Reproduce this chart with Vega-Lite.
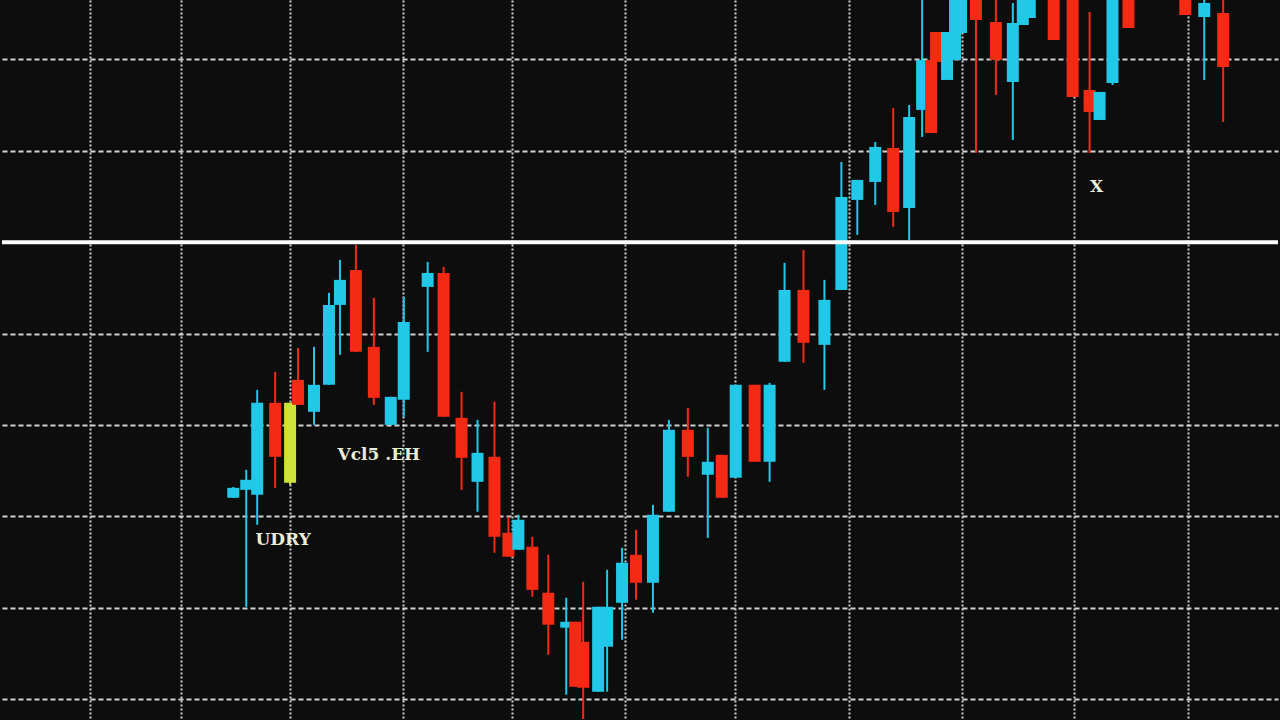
{
  "$schema": "https://vega.github.io/schema/vega-lite/v6.json",
  "width": 1280,
  "height": 720,
  "autosize": {"type": "fit", "contains": "padding"},
  "padding": 0,
  "background": "#0d0d0d",
  "config": {"view": {"stroke": null}},
  "datasets": {
    "candles": [
      {"t": 23.2, "dir": "up", "open": 122.02, "high": 123.2, "low": 122.0, "close": 123.11},
      {"t": 24.5, "dir": "up", "open": 122.89, "high": 125.08, "low": 110.09, "close": 123.99},
      {"t": 25.6, "dir": "up", "open": 122.35, "high": 133.83, "low": 119.07, "close": 132.41},
      {"t": 27.4, "dir": "down", "open": 132.41, "high": 135.8, "low": 123.11, "close": 126.5},
      {"t": 28.9, "dir": "alt", "open": 123.66, "high": 132.41, "low": 123.44, "close": 132.41},
      {"t": 29.7, "dir": "down", "open": 134.93, "high": 138.43, "low": 132.19, "close": 132.19},
      {"t": 31.3, "dir": "up", "open": 131.43, "high": 138.54, "low": 130.0, "close": 134.38},
      {"t": 32.8, "dir": "up", "open": 134.38, "high": 144.45, "low": 134.38, "close": 143.13},
      {"t": 33.9, "dir": "up", "open": 143.13, "high": 148.06, "low": 137.66, "close": 145.87},
      {"t": 35.5, "dir": "down", "open": 146.96, "high": 149.7, "low": 137.99, "close": 137.99},
      {"t": 37.3, "dir": "down", "open": 138.54, "high": 143.9, "low": 132.19, "close": 132.96},
      {"t": 39.0, "dir": "up", "open": 130.0, "high": 133.07, "low": 130.0, "close": 133.07},
      {"t": 40.3, "dir": "up", "open": 132.74, "high": 144.01, "low": 130.88, "close": 141.27},
      {"t": 42.7, "dir": "up", "open": 145.1, "high": 147.84, "low": 137.99, "close": 146.63},
      {"t": 44.3, "dir": "down", "open": 146.63, "high": 147.29, "low": 130.88, "close": 130.88},
      {"t": 46.1, "dir": "down", "open": 130.77, "high": 133.62, "low": 122.89, "close": 126.39},
      {"t": 47.7, "dir": "up", "open": 123.77, "high": 130.55, "low": 120.49, "close": 126.94},
      {"t": 49.4, "dir": "down", "open": 126.5, "high": 132.52, "low": 116.0, "close": 117.75},
      {"t": 50.8, "dir": "down", "open": 118.19, "high": 119.94, "low": 115.56, "close": 115.56},
      {"t": 51.8, "dir": "up", "open": 116.33, "high": 120.16, "low": 116.33, "close": 119.61},
      {"t": 53.2, "dir": "down", "open": 116.66, "high": 117.75, "low": 111.19, "close": 111.95},
      {"t": 54.8, "dir": "down", "open": 111.63, "high": 115.78, "low": 104.84, "close": 108.13},
      {"t": 56.6, "dir": "up", "open": 107.8, "high": 111.08, "low": 100.47, "close": 108.45},
      {"t": 57.5, "dir": "down", "open": 108.45, "high": 108.45, "low": 101.34, "close": 101.34},
      {"t": 58.3, "dir": "down", "open": 106.26, "high": 112.83, "low": 97.8, "close": 101.23},
      {"t": 59.8, "dir": "up", "open": 100.8, "high": 110.09, "low": 100.8, "close": 110.09},
      {"t": 60.7, "dir": "up", "open": 105.72, "high": 114.14, "low": 100.8, "close": 110.09},
      {"t": 62.2, "dir": "up", "open": 110.53, "high": 116.55, "low": 106.48, "close": 114.91},
      {"t": 63.6, "dir": "down", "open": 115.78, "high": 118.52, "low": 110.86, "close": 112.72},
      {"t": 65.3, "dir": "up", "open": 112.72, "high": 121.25, "low": 109.44, "close": 120.16},
      {"t": 66.9, "dir": "up", "open": 120.49, "high": 130.55, "low": 120.49, "close": 129.46},
      {"t": 68.8, "dir": "down", "open": 129.46, "high": 131.86, "low": 124.32, "close": 126.5},
      {"t": 70.8, "dir": "up", "open": 124.54, "high": 129.68, "low": 117.64, "close": 125.96},
      {"t": 72.2, "dir": "down", "open": 126.72, "high": 126.72, "low": 122.02, "close": 122.02},
      {"t": 73.6, "dir": "up", "open": 124.21, "high": 134.38, "low": 124.21, "close": 134.38},
      {"t": 75.5, "dir": "down", "open": 134.38, "high": 134.38, "low": 125.96, "close": 125.96},
      {"t": 77.0, "dir": "up", "open": 125.96, "high": 134.6, "low": 123.77, "close": 134.38},
      {"t": 78.5, "dir": "up", "open": 136.9, "high": 147.73, "low": 136.9, "close": 144.77},
      {"t": 80.4, "dir": "down", "open": 144.77, "high": 149.15, "low": 136.79, "close": 138.98},
      {"t": 82.5, "dir": "up", "open": 138.76, "high": 145.87, "low": 133.83, "close": 143.68},
      {"t": 84.2, "dir": "up", "open": 144.77, "high": 158.78, "low": 144.77, "close": 154.95},
      {"t": 85.8, "dir": "up", "open": 154.62, "high": 156.81, "low": 150.79, "close": 156.81},
      {"t": 87.6, "dir": "up", "open": 156.59, "high": 160.97, "low": 154.07, "close": 160.42},
      {"t": 89.4, "dir": "down", "open": 160.31, "high": 164.68, "low": 151.67, "close": 153.31},
      {"t": 91.0, "dir": "up", "open": 153.74, "high": 165.01, "low": 150.24, "close": 163.7},
      {"t": 92.3, "dir": "up", "open": 164.47, "high": 176.5, "low": 161.51, "close": 169.94},
      {"t": 93.2, "dir": "down", "open": 169.94, "high": 169.94, "low": 161.95, "close": 161.95},
      {"t": 93.7, "dir": "down", "open": 173.0, "high": 173.0, "low": 169.72, "close": 169.72},
      {"t": 94.8, "dir": "up", "open": 167.75, "high": 173.0, "low": 167.75, "close": 173.0},
      {"t": 95.6, "dir": "up", "open": 169.94, "high": 178.0, "low": 169.94, "close": 177.5},
      {"t": 96.2, "dir": "up", "open": 172.89, "high": 177.0, "low": 172.89, "close": 177.0},
      {"t": 97.7, "dir": "down", "open": 178.7, "high": 179.0, "low": 159.76, "close": 174.31},
      {"t": 99.7, "dir": "down", "open": 174.09, "high": 177.0, "low": 166.11, "close": 169.94},
      {"t": 101.4, "dir": "up", "open": 167.53, "high": 176.17, "low": 161.18, "close": 173.98},
      {"t": 102.4, "dir": "up", "open": 173.77, "high": 177.0, "low": 173.77, "close": 177.0},
      {"t": 103.1, "dir": "up", "open": 174.53, "high": 177.0, "low": 174.53, "close": 177.0},
      {"t": 105.5, "dir": "down", "open": 177.0, "high": 177.0, "low": 172.12, "close": 172.12},
      {"t": 107.4, "dir": "down", "open": 178.0, "high": 179.0, "low": 165.89, "close": 165.89},
      {"t": 109.1, "dir": "down", "open": 166.65, "high": 175.19, "low": 159.76, "close": 164.25},
      {"t": 110.1, "dir": "up", "open": 163.37, "high": 166.44, "low": 163.37, "close": 166.44},
      {"t": 111.4, "dir": "up", "open": 167.42, "high": 177.0, "low": 167.2, "close": 177.0},
      {"t": 113.0, "dir": "down", "open": 177.0, "high": 177.0, "low": 173.44, "close": 173.44},
      {"t": 118.7, "dir": "down", "open": 178.0, "high": 179.0, "low": 174.86, "close": 174.86},
      {"t": 120.6, "dir": "up", "open": 174.64, "high": 177.0, "low": 167.75, "close": 176.17},
      {"t": 122.5, "dir": "down", "open": 175.08, "high": 177.0, "low": 163.15, "close": 169.17}
    ],
    "labels": [
      {"t": 28.2, "price": 117.42, "text": "UDRY"},
      {"t": 37.8, "price": 126.72, "text": "Vcl5 .EH"},
      {"t": 109.8, "price": 156.04, "text": "X"}
    ],
    "levels": [
      {"price": 150}
    ]
  },
  "layer": [
    {
      "data": {"name": "candles"},
      "mark": {"type": "rule", "strokeWidth": 2, "clip": true},
      "encoding": {
        "x": {
          "field": "t", "type": "quantitative",
          "scale": {"domain": [0, 128], "nice": false, "zero": false, "padding": 0},
          "axis": {
            "values": [8.8, 18, 28.9, 40.2, 51.2, 62.5, 73.5, 85, 96.3, 107.5, 119],
            "grid": true, "gridColor": "#e6e6e6", "gridDash": [2, 2], "gridWidth": 2, "gridOpacity": 0.9,
            "labels": false, "ticks": false, "domain": false, "title": null,
            "labelPadding": 0, "tickSize": 0, "titlePadding": 0,
            "minExtent": 0, "maxExtent": 0, "offset": 0
          }
        },
        "y": {
          "field": "low", "type": "quantitative",
          "scale": {"domain": [97.7, 176.5], "nice": false, "zero": false, "padding": 0},
          "axis": {
            "values": [100, 110, 120, 130, 140, 160, 170],
            "grid": true, "gridColor": "#e6e6e6", "gridDash": [5, 3], "gridWidth": 2, "gridOpacity": 0.9,
            "labels": false, "ticks": false, "domain": false, "title": null,
            "labelPadding": 0, "tickSize": 0, "titlePadding": 0,
            "minExtent": 0, "maxExtent": 0, "offset": 0
          }
        },
        "y2": {"field": "high"},
        "color": {
          "field": "dir", "type": "nominal",
          "scale": {"domain": ["up", "down", "alt"], "range": ["#22c8e8", "#f42a14", "#cfe23c"]},
          "legend": null
        }
      }
    },
    {
      "data": {"name": "candles"},
      "mark": {"type": "bar", "size": 12, "clip": true},
      "encoding": {
        "x": {"field": "t", "type": "quantitative"},
        "y": {"field": "open", "type": "quantitative"},
        "y2": {"field": "close"},
        "color": {"field": "dir", "type": "nominal", "legend": null}
      }
    },
    {
      "data": {"name": "labels"},
      "mark": {"type": "text", "font": "DejaVu Serif", "fontSize": 17, "fontWeight": "bold", "color": "#e9ecd6", "align": "center", "baseline": "middle"},
      "encoding": {
        "x": {"field": "t", "type": "quantitative"},
        "y": {"field": "price", "type": "quantitative"},
        "text": {"field": "text"}
      }
    },
    {
      "data": {"name": "levels"},
      "mark": {"type": "rule", "color": "#ffffff", "strokeWidth": 4},
      "encoding": {"y": {"field": "price", "type": "quantitative"}}
    }
  ]
}
